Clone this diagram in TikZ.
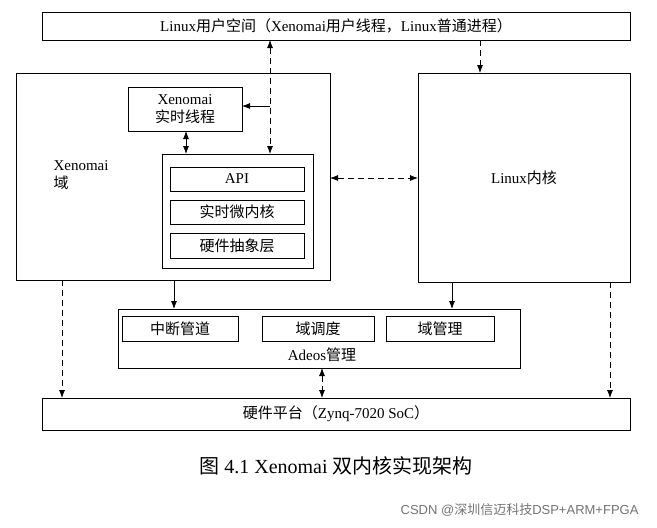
\documentclass[tikz,border=0pt]{standalone}
\usepackage{fontspec}
\setmainfont{Liberation Serif}
\newfontfamily\cjk{Noto Sans CJK SC}
\newfontfamily\wm{Liberation Sans}
\newcommand{\zh}[1]{{\cjk #1}}
\usetikzlibrary{arrows.meta}
\begin{document}
\begin{tikzpicture}[x=1pt,y=-1pt,
  bx/.style={draw,line width=0.9pt},
  t/.style={font=\fontsize{15}{18}\selectfont,align=center},
  ar/.style={-{Latex[length=8pt,width=6pt]},line width=0.8pt},
  dar/.style={{Latex[length=8pt,width=6pt]}-{Latex[length=8pt,width=6pt]},line width=0.8pt},
  dsh/.style={dash pattern=on 6pt off 4pt}]
\useasboundingbox (0,0) rectangle (657,528);
\draw[bx] (42,12) rectangle (630,40);
\node[t] (top) at (336,26) {Linux\zh{用户空间（}Xenomai\zh{用户线程，}Linux\zh{普通进程）}};
\coordinate (topA) at (270,40); \coordinate (topB) at (480,40);
\draw[bx] (16,73) rectangle (330,280);
\draw[bx] (128,87) rectangle (242,131);
\node[t] (xt) at (185,109) {Xenomai\\\zh{实时线程}};
\node[t,align=left,anchor=west] (xd) at (50,175) {Xenomai\\\zh{域}};
\draw[bx] (162,154) rectangle (313,268);
\draw[bx] (170,167) rectangle (304,191); \node[t] (api) at (237,179) {API};
\draw[bx] (170,200) rectangle (304,224); \node[t] (mk) at (237,212) {\zh{实时微内核}};
\draw[bx] (170,233) rectangle (304,258); \node[t] (hal) at (237,245.5) {\zh{硬件抽象层}};
\draw[bx] (418,73) rectangle (630,282);
\node[t] (lk) at (524,178) {Linux\zh{内核}};
\draw[bx] (118,309) rectangle (520,368);
\draw[bx] (122,316) rectangle (238,341); \node[t] (ip) at (180,328.5) {\zh{中断管道}};
\draw[bx] (262,316) rectangle (374,341); \node[t] (ds) at (318,328.5) {\zh{域调度}};
\draw[bx] (386,316) rectangle (494,341); \node[t] (dm) at (440,328.5) {\zh{域管理}};
\node[t] (ad) at (322,355) {Adeos\zh{管理}};
\draw[bx] (42,398) rectangle (630,430);
\node[t] (hw) at (336,414) {\zh{硬件平台（}Zynq-7020 SoC\zh{）}};
\node[font=\fontsize{20}{24}\selectfont] (cap) at (336,466) {\zh{图} 4.1 Xenomai \zh{双内核实现架构}};
\node[font=\wm\fontsize{13}{15}\selectfont,text=black!55,anchor=east] (wmk) at (642,510) {CSDN @\zh{深圳信迈科技}DSP+ARM+FPGA};
% connectors
\coordinate (a1) at (270,154); \coordinate (a2) at (270,106); \coordinate (a3) at (242,106);
\draw[dar,dsh] (topA) -- (a1);
\draw[ar] (a2) -- (a3);
\draw[dar] (186,131) coordinate (b1) -- (186,154) coordinate (b2);
\draw[dar,dsh] (330,178) coordinate (c1) -- (418,178) coordinate (c2);
\draw[ar,dsh] (topB) -- (480,73) coordinate (d1);
\draw[ar] (174,280) coordinate (e1) -- (174,309) coordinate (e2);
\draw[ar] (452,282) coordinate (f1) -- (452,309) coordinate (f2);
\draw[dar,dsh] (322,368) coordinate (g1) -- (322,398) coordinate (g2);
\draw[ar,dsh] (62,280) coordinate (h1) -- (62,398) coordinate (h2);
\draw[ar,dsh] (610,282) coordinate (i1) -- (610,398) coordinate (i2);
\end{tikzpicture}
\end{document}
